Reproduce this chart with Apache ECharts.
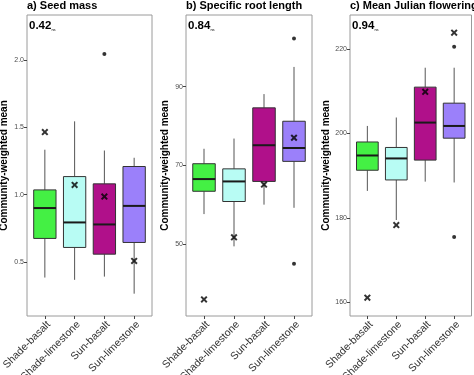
<!DOCTYPE html>
<html>
<head>
<meta charset="utf-8">
<script src="https://cdn.jsdelivr.net/npm/echarts@6/dist/echarts.min.js"></script>
<style>html,body{margin:0;padding:0;background:#fff}#c{width:474px;height:375px}</style>
</head>
<body>
<div id="c"></div>
<script>
// ---- data ----
const categories = ['Shade-basalt', 'Shade-limestone', 'Sun-basalt', 'Sun-limestone'];
const panelTitles = ['a) Seed mass', 'b) Specific root length', 'c) Mean Julian flowering'];
const pValues = ['0.42', '0.84', '0.94'];
const yAxisName = 'Community-weighted mean';

// [lower whisker, Q1, median, Q3, upper whisker]
const seedBox = [[0.383, 0.674, 0.900, 1.035, 1.334], [0.366, 0.607, 0.793, 1.134, 1.545], [0.390, 0.557, 0.778, 1.080, 1.328], [0.263, 0.644, 0.916, 1.209, 1.274]];
const seedMean = [1.465, 1.072, 0.985, 0.507];
const seedOutliers = [[3, 2.045]];
const seedTicks = [0.5, 1.0, 1.5, 2.0];

const srlBox = [[57.6, 63.4, 66.5, 70.4, 74.2], [49.4, 60.8, 65.9, 69.1, 76.8], [60.0, 65.9, 75.1, 84.6, 88.1], [59.2, 71.0, 74.4, 81.2, 95.0]];
const srlMean = [35.9, 51.7, 65.1, 77.0];
const srlOutliers = [[4, 102.2], [4, 45.0]];
const srlTicks = [50, 70, 90];

const flowBox = [[186.4, 191.3, 194.8, 198.0, 201.8], [179.5, 189.0, 194.1, 196.7, 203.8], [188.6, 193.7, 202.6, 211.0, 215.6], [188.4, 198.9, 201.8, 207.2, 215.6]];
const flowMean = [161.1, 178.3, 209.9, 223.9];
const flowOutliers = [[4, 220.6], [4, 175.5]];
const flowTicks = [160, 180, 200, 220];

// ---- styling / layout ----
const boxColors = ['#44F044', '#B8FCF4', '#B0108A', '#9B80FA'];
const FONT = 'Liberation Sans, Arial, sans-serif';
const panels = [
  { box: seedBox, mean: seedMean, out: seedOutliers, ticks: seedTicks, min: 0.097, max: 2.336, fmt: v => v.toFixed(1), left: 27, width: 125, nameGap: 18 },
  { box: srlBox, mean: srlMean, out: srlOutliers, ticks: srlTicks, min: 31.7, max: 108.2, fmt: v => String(v), left: 186, width: 126, nameGap: 15.5 },
  { box: flowBox, mean: flowMean, out: flowOutliers, ticks: flowTicks, min: 156.75, max: 228.1, fmt: v => String(v), left: 350, width: 121.5, nameGap: 18.5 }
];

const xMark = 'path://M0,2L2,0L5,3L8,0L10,2L7,5L10,8L8,10L5,7L2,10L0,8L3,5Z';

function boxRender(params, api) {
  const x = api.value(0);
  const p = i => api.coord([x, api.value(i)]);
  const lo = p(1), q1 = p(2), md = p(3), q3 = p(4), hi = p(5);
  const w = api.size([0.75, 0])[0];
  const left = lo[0] - w / 2;
  return {
    type: 'group',
    children: [
      { type: 'line', shape: { x1: lo[0], y1: lo[1], x2: q1[0], y2: q1[1] }, style: { stroke: '#555', lineWidth: 1 } },
      { type: 'line', shape: { x1: q3[0], y1: q3[1], x2: hi[0], y2: hi[1] }, style: { stroke: '#555', lineWidth: 1 } },
      { type: 'rect', shape: { x: left, y: q3[1], width: w, height: q1[1] - q3[1] }, style: { fill: boxColors[params.dataIndex], stroke: '#333', lineWidth: 1 } },
      { type: 'line', shape: { x1: left, y1: md[1], x2: left + w, y2: md[1] }, style: { stroke: '#1a1a1a', lineWidth: 2 } }
    ]
  };
}

const grid = [], xAxis = [], yAxis = [], series = [], title = [];
panels.forEach((pn, k) => {
  grid.push({ left: pn.left, width: pn.width, top: 15, bottom: 59, show: true, borderColor: '#9a9a9a', borderWidth: 1,
    backgroundColor: 'transparent', containLabel: false, outerBoundsMode: 'none' });
  xAxis.push({
    type: 'value', gridIndex: k, min: 0.4, max: 4.6,
    axisLine: { show: false }, splitLine: { show: false },
    axisTick: { show: true, length: 3, lineStyle: { color: '#444' }, customValues: [1, 2, 3, 4] },
    axisLabel: { customValues: [1, 2, 3, 4], rotate: 45, fontSize: 10.5, color: '#333', fontFamily: FONT, margin: 3,
      align: 'right', verticalAlign: 'top',
      hideOverlap: false, formatter: v => categories[Math.round(v) - 1] || '' }
  });
  yAxis.push({
    type: 'value', gridIndex: k, min: pn.min, max: pn.max,
    name: yAxisName, nameLocation: 'middle', nameGap: pn.nameGap,
    nameTextStyle: { fontSize: 10, fontWeight: 'bold', color: '#000', fontFamily: FONT },
    axisLine: { show: false }, splitLine: { show: false },
    axisTick: { show: true, length: 3, lineStyle: { color: '#444' }, customValues: pn.ticks },
    axisLabel: { customValues: pn.ticks, fontSize: 7, color: '#4d4d4d', fontFamily: FONT, margin: 3, formatter: pn.fmt }
  });
  series.push({
    type: 'custom', xAxisIndex: k, yAxisIndex: k, renderItem: boxRender,
    encode: { x: 0, y: [1, 2, 3, 4, 5] },
    data: pn.box.map((b, i) => [i + 1].concat(b)), z: 2
  });
  series.push({
    type: 'scatter', xAxisIndex: k, yAxisIndex: k, symbol: 'circle', symbolSize: 4,
    itemStyle: { color: '#000' }, data: pn.out, z: 3
  });
  series.push({
    type: 'scatter', xAxisIndex: k, yAxisIndex: k, symbol: xMark, symbolSize: 7,
    itemStyle: { color: '#000' }, data: pn.mean.map((m, i) => [i + 1, m]), z: 4
  });
  title.push({
    text: panelTitles[k], left: pn.left, top: 0, padding: 0,
    textStyle: { fontSize: 11, fontWeight: 'bold', color: '#000', fontFamily: FONT, lineHeight: 11 }
  });
  title.push({
    text: pValues[k] + '{s|ns}', left: pn.left + 2, top: 20, padding: 0,
    textStyle: { fontSize: 11.5, fontWeight: 'bold', color: '#000', fontFamily: FONT,
      rich: { s: { fontSize: 4, fontWeight: 'normal', color: '#000', verticalAlign: 'bottom', padding: [6, 0, 0, 0] } } }
  });
});

const chart = echarts.init(document.getElementById('c'), null, { renderer: 'canvas' });
chart.setOption({ animation: false, backgroundColor: '#fff', title, grid, xAxis, yAxis, series });
</script>
</body>
</html>
